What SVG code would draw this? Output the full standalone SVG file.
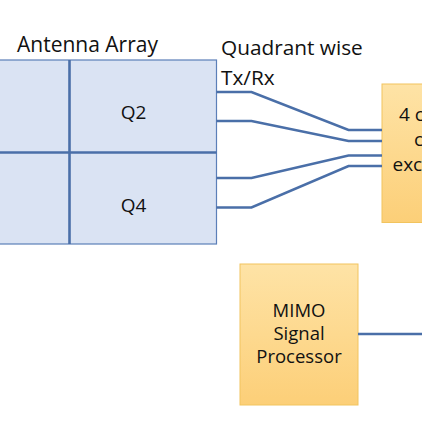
<svg xmlns="http://www.w3.org/2000/svg" width="422" height="422" viewBox="0 0 422 422">
<style>
.t{font-family:"Open Sans","Liberation Sans",sans-serif;fill:#111;}
.ln{fill:none;stroke:#4a6fa8;stroke-width:2.6;}
.blk{stroke:#f2c45e;stroke-width:1;}
</style>
<defs>
<linearGradient id="og" x1="0" y1="0" x2="0" y2="1">
<stop offset="0" stop-color="#fee3a6"/>
<stop offset="1" stop-color="#fccf78"/>
</linearGradient>
</defs>
<rect width="422" height="422" fill="#fff"/>
<g id="antenna-array">
<rect x="-10" y="60" width="226.5" height="184" fill="#dae3f3" stroke="#5b7fb8" stroke-width="1.2"/>
<line class="ln" x1="69.5" y1="60" x2="69.5" y2="244"/>
<line class="ln" x1="-10" y1="152.5" x2="216.5" y2="152.5"/>
<text class="t" x="17" y="52" font-size="21">Antenna Array</text>
<text class="t" x="133.5" y="119" font-size="19" text-anchor="middle">Q2</text>
<text class="t" x="133.5" y="212" font-size="19" text-anchor="middle">Q4</text>
</g>
<g id="label-quadrant">
<text class="t" x="221" y="55" font-size="20.8">Quadrant wise</text>
<text class="t" x="221" y="85" font-size="20.8">Tx/Rx</text>
</g>
<g id="exchange-block">
<rect class="blk" x="382" y="84" width="60" height="138.5" fill="url(#og)"/>
<text class="t" x="399" y="121" font-size="19">4 c</text>
<text class="t" x="414" y="146" font-size="19">c</text>
<text class="t" x="392.5" y="171" font-size="19">exc</text>
</g>
<g id="mimo-processor">
<rect class="blk" x="240" y="264" width="118" height="141" fill="url(#og)"/>
<text class="t" x="299" y="317" font-size="18.5" text-anchor="middle">MIMO</text>
<text class="t" x="299" y="340" font-size="18.5" text-anchor="middle">Signal</text>
<text class="t" x="299" y="363" font-size="18.5" text-anchor="middle">Processor</text>
</g>
<g id="connectors">
<polyline class="ln" points="216.5,92 251.5,92 348.5,130 382,130"/>
<polyline class="ln" points="216.5,121 251.5,121 348.5,141 382,141"/>
<polyline class="ln" points="216.5,178 251.5,178 348.5,155.5 382,155.5"/>
<polyline class="ln" points="216.5,207.5 251.5,207.5 348.5,166 382,166"/>
<line class="ln" x1="358" y1="334" x2="422" y2="334"/>
</g>
</svg>
